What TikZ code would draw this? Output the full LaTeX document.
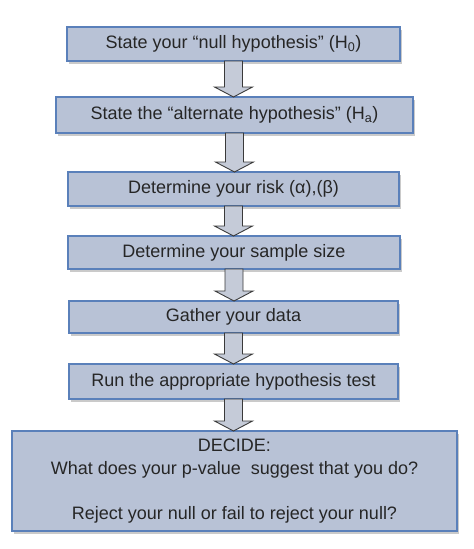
\documentclass[tikz,border=0pt]{standalone}
\usepackage{fontspec}
\setmainfont{Liberation Sans}
\usetikzlibrary{shadows,calc}
\definecolor{boxfill}{HTML}{B8C2D6}
\definecolor{boxline}{HTML}{5A80BA}
\definecolor{arrfill}{HTML}{C5CBD8}
\definecolor{arrline}{HTML}{3A3A3A}
\definecolor{txt}{HTML}{262626}
\tikzset{
  stepbox/.style={draw=boxline, line width=1.1pt, fill=boxfill, inner sep=0pt, outer sep=0pt,
    text=txt, font=\fontsize{18}{22.5}\selectfont, align=center,
    drop shadow={shadow xshift=1.8pt, shadow yshift=-2.8pt, opacity=0.35, fill=black!60}},
  barrow/.style={draw=arrline, line width=0.9pt, fill=arrfill, line join=miter}
}
\newcommand{\blockarrow}[2]{%
  \draw[barrow] let \p1=(#1.south), \p2=(#2.north) in
    (\x1-9pt,\y1) -- (\x1+9pt,\y1) -- (\x1+9pt,\y2+10pt) -- (\x1+19pt,\y2+10pt)
    -- (\x1,\y2) -- (\x1-19pt,\y2+10pt) -- (\x1-9pt,\y2+10pt) -- cycle;}
\begin{document}
\begin{tikzpicture}[x=1pt,y=-1pt]
\useasboundingbox (0,0) rectangle (474,549);
\node[stepbox, minimum width=333pt, minimum height=34pt] (b1) at (233.5,44) {State your “null hypothesis” (H\textsubscript{0})};
\node[stepbox, minimum width=357pt, minimum height=36pt] (b2) at (234.5,115) {State the “alternate hypothesis” (H\textsubscript{a})};
\node[stepbox, minimum width=331pt, minimum height=34pt] (b3) at (233.5,189) {Determine your risk (α),(β)};
\node[stepbox, minimum width=332pt, minimum height=33pt] (b4) at (234,252.5) {Determine your sample size};
\node[stepbox, minimum width=329pt, minimum height=32pt] (b5) at (233.5,317) {Gather your data};
\node[stepbox, minimum width=329pt, minimum height=35pt] (b6) at (233.5,381.5) {Run the appropriate hypothesis test};
\node[stepbox, minimum width=445pt, minimum height=100pt] (b7) at (234.5,481) {DECIDE:\\What does your p-value~ suggest that you do?\\[22.5pt]Reject your null or fail to reject your null?};
\blockarrow{b1}{b2}
\blockarrow{b2}{b3}
\blockarrow{b3}{b4}
\blockarrow{b4}{b5}
\blockarrow{b5}{b6}
\blockarrow{b6}{b7}
\end{tikzpicture}
\end{document}
